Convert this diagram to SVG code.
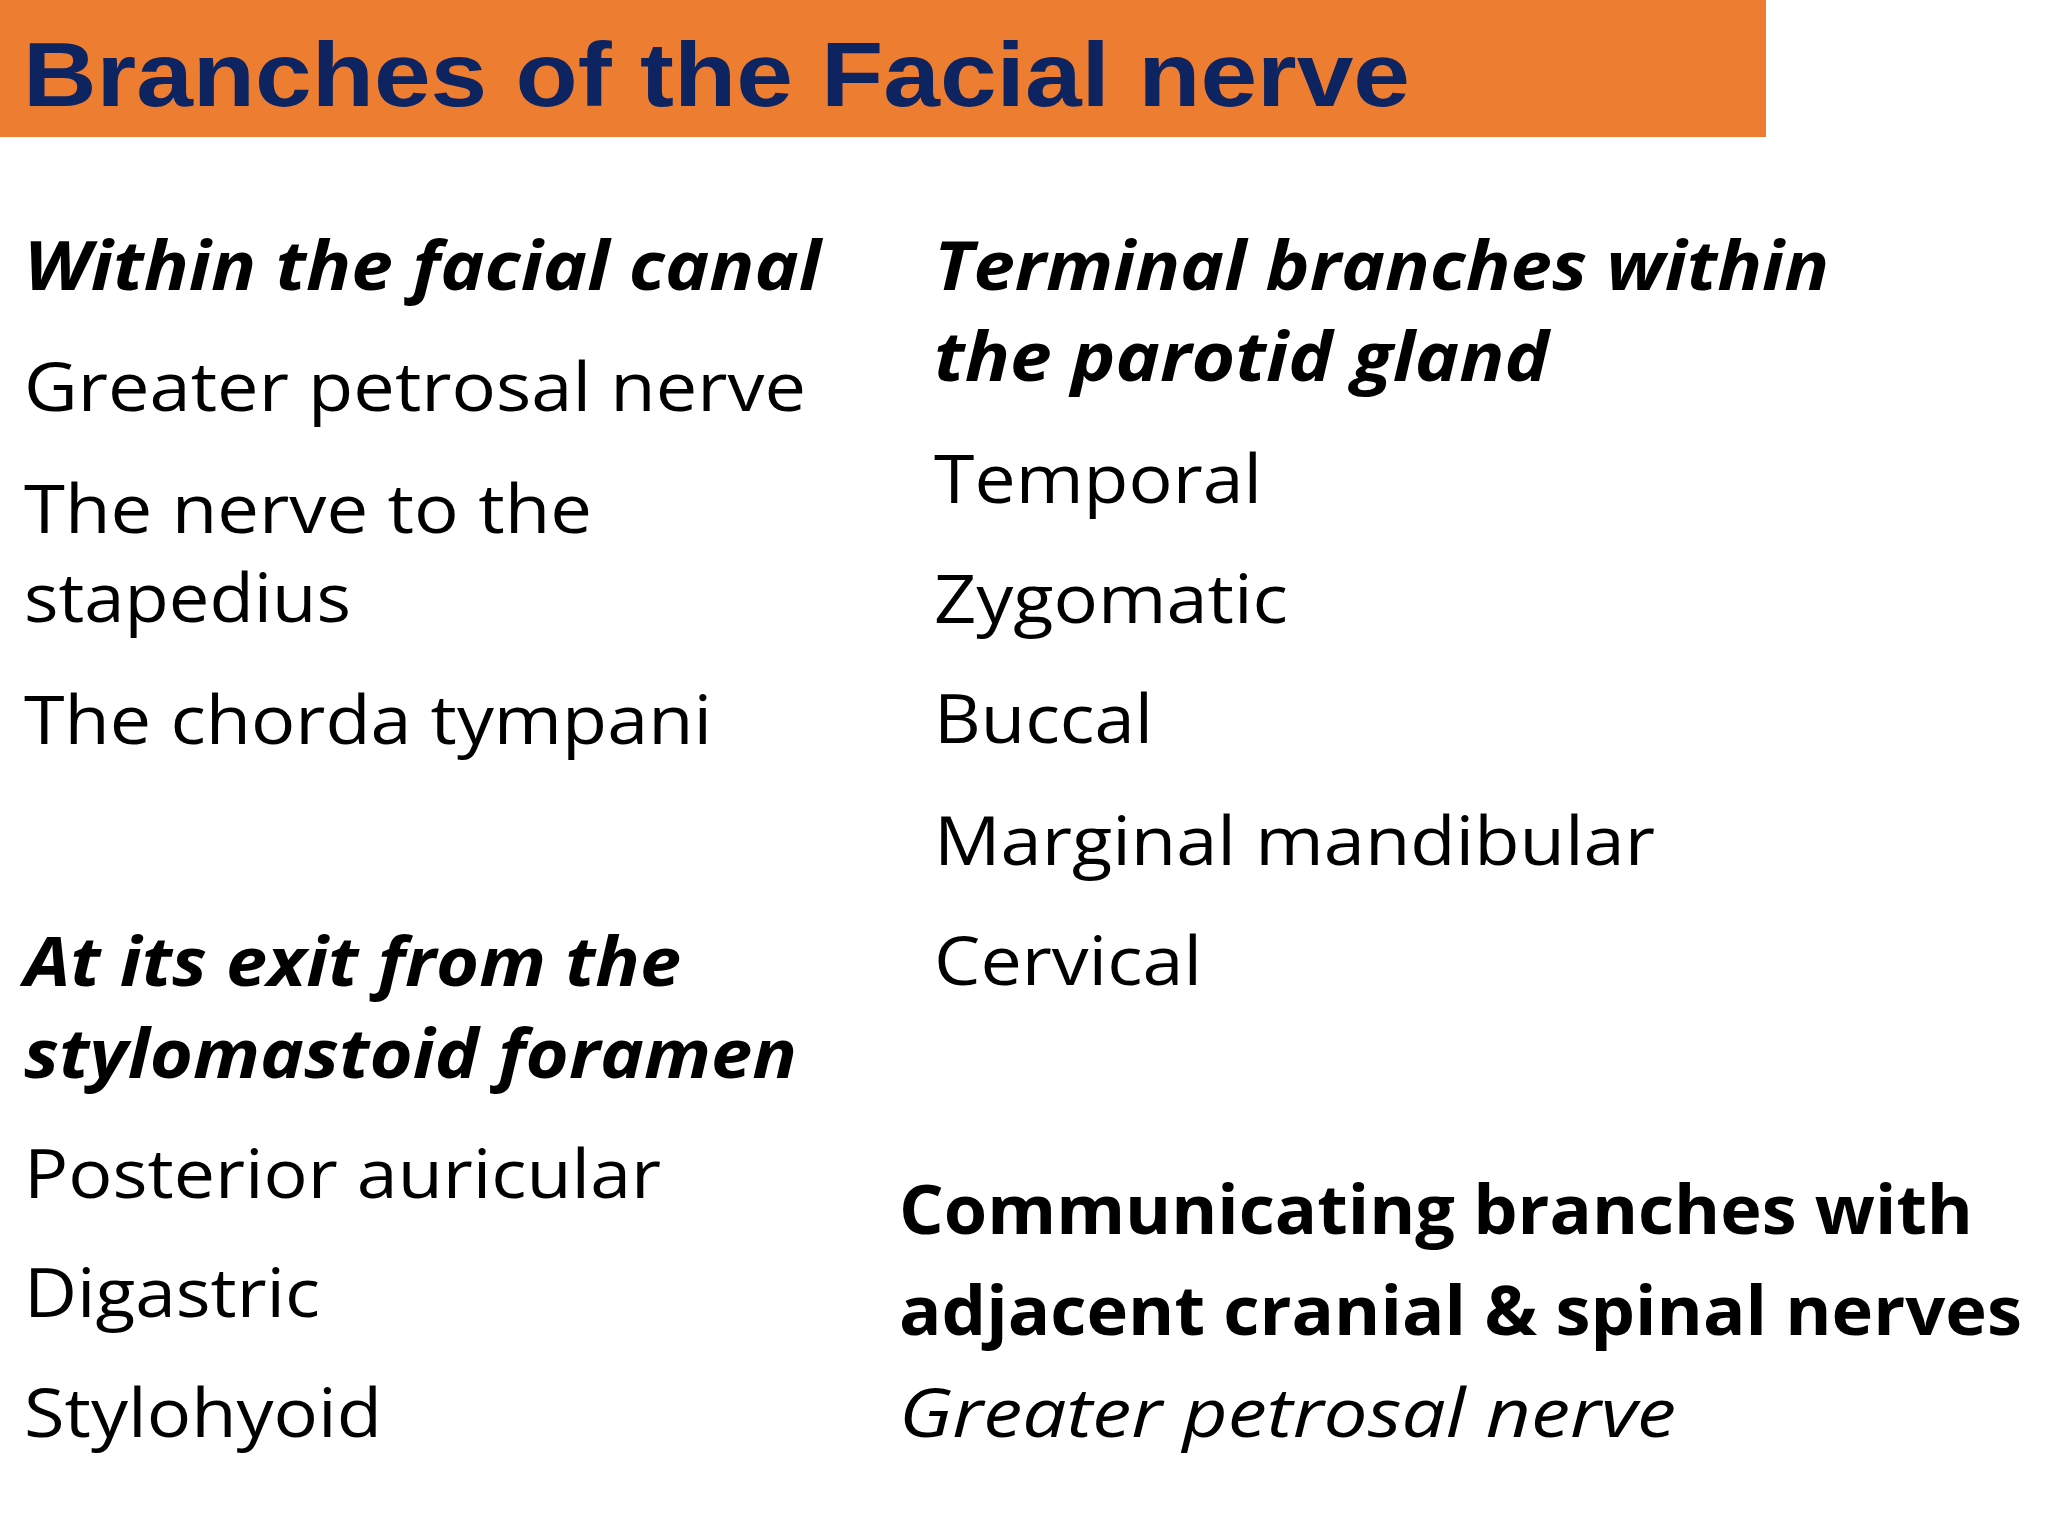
<svg xmlns="http://www.w3.org/2000/svg" width="2048" height="1536" viewBox="0 0 2048 1536">
<style>
text{font-family:"Open Sans","Liberation Sans",sans-serif;font-size:68px;fill:#000}
.h{font-weight:bold;font-style:italic}
.b{font-weight:bold}
.i{font-style:italic}
.t{font-family:"Liberation Sans",Arial,sans-serif;font-weight:bold;font-size:90px;fill:#0d2461}
</style>
<rect width="2048" height="1536" fill="#fff"/>
<g id="title">
<rect x="0" y="0" width="1766" height="137" fill="#ED7D31"/>
<text class="t" x="23" y="106" textLength="1387" lengthAdjust="spacingAndGlyphs">Branches of the Facial nerve</text>
</g>
<g id="left">
<text class="h" x="24" y="290" textLength="797" lengthAdjust="spacingAndGlyphs">Within the facial canal</text>
<text x="24" y="411" textLength="782" lengthAdjust="spacingAndGlyphs">Greater petrosal nerve</text>
<text x="24" y="533" textLength="568" lengthAdjust="spacingAndGlyphs">The nerve to the</text>
<text x="24" y="622" textLength="327" lengthAdjust="spacingAndGlyphs">stapedius</text>
<text x="24" y="744" textLength="688" lengthAdjust="spacingAndGlyphs">The chorda tympani</text>
<text class="h" x="24" y="986" textLength="657" lengthAdjust="spacingAndGlyphs">At its exit from the</text>
<text class="h" x="24" y="1078" textLength="773" lengthAdjust="spacingAndGlyphs">stylomastoid foramen</text>
<text x="24" y="1198" textLength="637" lengthAdjust="spacingAndGlyphs">Posterior auricular</text>
<text x="24" y="1317" textLength="296" lengthAdjust="spacingAndGlyphs">Digastric</text>
<text x="24" y="1437" textLength="358" lengthAdjust="spacingAndGlyphs">Stylohyoid</text>
</g>
<g id="right">
<text class="h" x="934" y="290" textLength="895" lengthAdjust="spacingAndGlyphs">Terminal branches within</text>
<text class="h" x="934" y="381" textLength="615" lengthAdjust="spacingAndGlyphs">the parotid gland</text>
<text x="934" y="503" textLength="328" lengthAdjust="spacingAndGlyphs">Temporal</text>
<text x="934" y="623" textLength="354" lengthAdjust="spacingAndGlyphs">Zygomatic</text>
<text x="934" y="743" textLength="219" lengthAdjust="spacingAndGlyphs">Buccal</text>
<text x="934" y="865" textLength="721" lengthAdjust="spacingAndGlyphs">Marginal mandibular</text>
<text x="934" y="985" textLength="268" lengthAdjust="spacingAndGlyphs">Cervical</text>
<text class="b" x="899" y="1234" textLength="1074" lengthAdjust="spacingAndGlyphs">Communicating branches with</text>
<text class="b" x="899" y="1335" textLength="1123" lengthAdjust="spacingAndGlyphs">adjacent cranial &amp; spinal nerves</text>
<text class="i" x="899" y="1437" textLength="777" lengthAdjust="spacingAndGlyphs">Greater petrosal nerve</text>
</g>
</svg>
